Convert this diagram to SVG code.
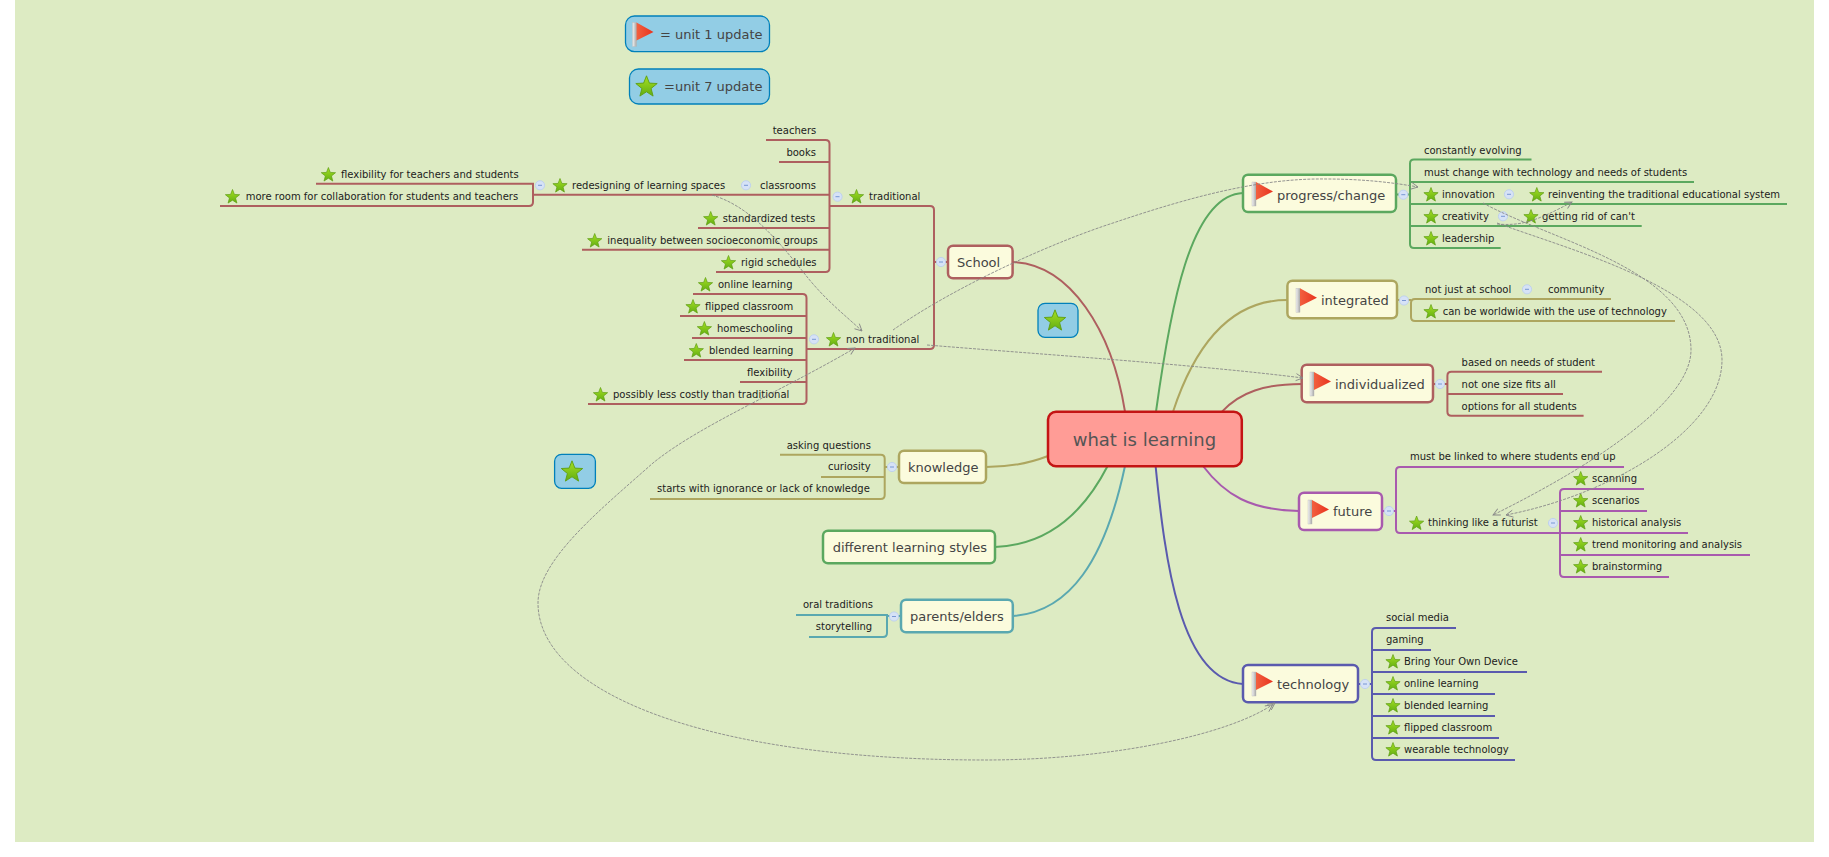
<svg xmlns="http://www.w3.org/2000/svg" xmlns:xlink="http://www.w3.org/1999/xlink" width="1829" height="857" viewBox="0 0 1829 857">
<style>
text{font-family:"DejaVu Sans",Verdana,sans-serif}
.l{font-size:10px;fill:#1c1c1c}
.n{font-size:13px;fill:#444}
.c{font-size:18px;fill:#555;text-anchor:middle}
.box{fill:#fbfbdd;stroke-width:2.5}
.r{stroke:#ae5f5f}.o{stroke:#ada65f}.g{stroke:#5ba85f}.t{stroke:#5aa8b0}.p{stroke:#a85aae}.b{stroke:#5a5aae}
.leg{fill:#92cde5;stroke:#0080ba;stroke-width:1.3}
#conn path{fill:none;stroke-width:2}
#rel path{fill:none;stroke:#888;stroke-width:.9;stroke-dasharray:3 1.2}
</style>
<defs>
<linearGradient id="sg" x1="0" y1="0" x2="0" y2="1"><stop offset="0" stop-color="#a6e022"/><stop offset="1" stop-color="#62ae12"/></linearGradient>
<linearGradient id="fg" x1="0" y1="0" x2="1" y2="0"><stop offset="0" stop-color="#f2603f"/><stop offset="1" stop-color="#e8321e"/></linearGradient>
<linearGradient id="pg" x1="0" y1="0" x2="1" y2="0"><stop offset="0" stop-color="#f4f4f4"/><stop offset="1" stop-color="#a8a8a8"/></linearGradient>
<g id="star"><polygon points="0,-7.5 1.88,-2.59 7.13,-2.32 3.04,.99 4.41,6.07 0,3.2 -4.41,6.07 -3.04,.99 -7.13,-2.32 -1.88,-2.59" fill="url(#sg)" stroke="#5e9e12" stroke-width=".7" stroke-linejoin="round"/></g>
<g id="bigstar"><polygon points="0,-11.2 2.9,-3.9 10.7,-3.5 4.6,1.5 6.6,9.1 0,4.8 -6.6,9.1 -4.6,1.5 -10.7,-3.5 -2.9,-3.9" fill="url(#sg)" stroke="#5e9e12" stroke-width=".9" stroke-linejoin="round"/></g>
<g id="flag"><rect x="0" y="0" width="4" height="24" fill="url(#pg)" stroke="#bbb" stroke-width=".4"/><path d="M4,0 L21,9.5 L4,18Z" fill="url(#fg)"/></g>
<g id="col"><circle r="4.6" fill="#d6e2f6" stroke="#b9cdf0" stroke-width=".8"/><path d="M-2,0H2" stroke="#6d8fd0" stroke-width=".9"/></g>
<marker id="arr" markerUnits="userSpaceOnUse" markerWidth="12" markerHeight="10" viewBox="-9 -5 10 10" refX="0" refY="0" orient="auto-start-reverse"><path d="M-7,-3.5L0,0L-7,3.5" fill="none" stroke="#888" stroke-width=".9"/></marker>
<marker id="arr2" markerUnits="userSpaceOnUse" markerWidth="14" markerHeight="10" viewBox="-11 -5 12 10" refX="0" refY="0" orient="auto"><path d="M-7,-3.5L0,0L-7,3.5M-10,-3.5L-3,0L-10,3.5" fill="none" stroke="#888" stroke-width=".9"/></marker>
</defs>
<rect id="background" x="15" y="0" width="1799" height="842" fill="#ddebc3"/>

<g id="conn">
<path class="r" d="M1012.6,262C1070,264 1112,330 1125,411.7"/>
<path class="o" d="M986,467C1010,467 1030,463 1048,456"/>
<path class="g" d="M995,547C1050,545 1085,510 1107.6,466"/>
<path class="t" d="M1013,616C1070,612 1105,560 1125,466"/>
<path class="b" d="M1155.6,466C1165,560 1180,680 1243,684"/>
<path class="p" d="M1203,466C1225,495 1250,510 1299,511"/>
<path class="r" d="M1222,411.7C1240,392 1265,384 1302,384"/>
<path class="o" d="M1173,411.7C1195,345 1230,300 1287,300"/>
<path class="g" d="M1156,411.7C1170,310 1190,195 1243,193"/>
<path class="r" d="M934,262H948"/>
<path class="r" d="M948,262H934M830,206H930Q934,206 934,210V345Q934,349 930,349H807"/>
<path class="r" d="M766,140H825.5Q829.5,140 829.5,144V268Q829.5,272 825.5,272H716"/>
<path class="r" d="M779,162H829.5M698,228H829.5M582,249.7H829.5M533,194.7H829.5"/>
<path class="r" d="M316,183.7H533V202Q533,206 529,206H220"/>
<path class="r" d="M693,294H802.5Q806.5,294 806.5,298V400Q806.5,404 802.5,404H588"/>
<path class="r" d="M680,316H806.5M692,338H806.5M684,360H806.5M740,382H806.5"/>
<path class="o" d="M780,454.7H880.7Q884.7,454.7 884.7,458.7V495Q884.7,499 880.7,499H650M821,477H884.7M884.7,467H899"/>
<path class="t" d="M796,615H887V633Q887,637 883,637H809M887,616H901"/>
<path class="g" d="M1531.5,159.5H1414Q1410,159.5 1410,163.5V244Q1410,248 1414,248H1500.7M1410,182H1694M1410,204H1787M1410,226H1641.7M1396,194.5H1410"/>
<path class="o" d="M1611,299H1415Q1411,299 1411,303V317Q1411,321 1415,321H1675M1397,300H1411"/>
<path class="r" d="M1602,371.7H1451.4Q1447.4,371.7 1447.4,375.7V411.7Q1447.4,415.7 1451.4,415.7H1583.6M1447.4,394H1563M1433,384H1447.4"/>
<path class="p" d="M1624,467H1400Q1396,467 1396,471V529Q1396,533 1400,533H1688M1382,511H1396"/>
<path class="p" d="M1644,489H1564Q1560,489 1560,493V573Q1560,577 1564,577H1669M1560,511H1647M1560,555H1750"/>
<path class="b" d="M1456,628H1376Q1372,628 1372,632V756Q1372,760 1376,760H1515M1372,650H1431M1372,672H1527M1372,694H1495M1372,716H1495M1372,738H1499M1358,684H1372"/>
</g>

<g id="legend-flag"><rect class="leg" x="625.5" y="16" width="144" height="35.7" rx="9"/><use href="#flag" x="632.5" y="22.5"/><text x="660" y="38.7" font-size="13" fill="#444">= unit 1 update</text></g>
<g id="legend-star"><rect class="leg" x="629.5" y="69" width="140" height="35" rx="9"/><use href="#bigstar" x="646.5" y="87"/><text x="664" y="91" font-size="13" fill="#444">=unit 7 update</text></g>
<g id="float-star-1"><rect class="leg" x="1038" y="303.3" width="40" height="34" rx="7"/><use href="#bigstar" x="1055" y="321"/></g>
<g id="float-star-2"><rect class="leg" x="554.6" y="454.3" width="40.8" height="34" rx="7"/><use href="#bigstar" x="572" y="472"/></g>

<g id="central"><rect x="1048" y="411.7" width="193.8" height="54.6" rx="8" fill="#ff9c96" stroke="#c41414" stroke-width="2.5"/><text class="c" x="1144.4" y="446">what is learning</text></g>

<g id="school"><rect class="box r" x="948" y="245.7" width="64.6" height="32.6" rx="5"/><text class="n" x="957" y="267">School</text><use href="#col" x="941" y="262"/></g>
<g id="traditional"><use href="#star" x="856.5" y="197"/><text class="l" x="869" y="200">traditional</text><use href="#col" x="837.5" y="196.7"/></g>
<g id="teachers"><text class="l" x="772.7" y="133.7">teachers</text></g>
<g id="books"><text class="l" x="786.4" y="156">books</text></g>
<g id="classrooms"><text class="l" x="760" y="189">classrooms</text><use href="#col" x="746" y="185.3"/></g>
<g id="redesigning"><use href="#star" x="560" y="186"/><text class="l" x="572" y="189">redesigning of learning spaces</text><use href="#col" x="540" y="185.3"/></g>
<g id="flex-teachers"><use href="#star" x="328.4" y="175"/><text class="l" x="341" y="178">flexibility for teachers and students</text></g>
<g id="more-room"><use href="#star" x="232.5" y="197"/><text class="l" x="245.7" y="200">more room for collaboration for students and teachers</text></g>
<g id="standardized"><use href="#star" x="710.7" y="219"/><text class="l" x="722.7" y="222">standardized tests</text></g>
<g id="inequality"><use href="#star" x="594.7" y="241"/><text class="l" x="607.3" y="244">inequality between socioeconomic groups</text></g>
<g id="rigid"><use href="#star" x="728.5" y="263"/><text class="l" x="741" y="266">rigid schedules</text></g>
<g id="non-traditional"><use href="#star" x="833.5" y="340"/><text class="l" x="846" y="343">non traditional</text><use href="#col" x="814" y="339.3"/></g>
<g id="online-1"><use href="#star" x="705.5" y="285"/><text class="l" x="718" y="288">online learning</text></g>
<g id="flipped-1"><use href="#star" x="693" y="307"/><text class="l" x="705" y="310">flipped classroom</text></g>
<g id="homeschooling"><use href="#star" x="704.4" y="329"/><text class="l" x="717" y="332">homeschooling</text></g>
<g id="blended-1"><use href="#star" x="696.3" y="351"/><text class="l" x="709" y="354">blended learning</text></g>
<g id="flexibility"><text class="l" x="747" y="376">flexibility</text></g>
<g id="costly"><use href="#star" x="600.5" y="395"/><text class="l" x="613" y="398">possibly less costly than traditional</text></g>

<g id="knowledge"><rect class="box o" x="899" y="450.7" width="87" height="32.3" rx="5"/><text class="n" x="908" y="471.5">knowledge</text><use href="#col" x="892" y="467"/></g>
<g id="asking"><text class="l" x="786.7" y="449">asking questions</text></g>
<g id="curiosity"><text class="l" x="828" y="470">curiosity</text></g>
<g id="starts"><text class="l" x="657" y="492">starts with ignorance or lack of knowledge</text></g>
<g id="styles"><rect class="box g" x="823" y="530.7" width="172" height="32.6" rx="5"/><text class="n" x="832.7" y="551.5">different learning styles</text></g>
<g id="parents"><rect class="box t" x="901" y="599.7" width="111.8" height="32.6" rx="5"/><text class="n" x="910" y="620.5">parents/elders</text><use href="#col" x="894" y="616.5"/></g>
<g id="oral"><text class="l" x="803" y="608">oral traditions</text></g>
<g id="storytelling"><text class="l" x="815.8" y="630">storytelling</text></g>

<g id="progress"><rect class="box g" x="1243" y="174.7" width="153" height="37.3" rx="5"/><use href="#flag" x="1252" y="182"/><text class="n" x="1277" y="199.5">progress/change</text><use href="#col" x="1403.3" y="194.7"/></g>
<g id="evolving"><text class="l" x="1424" y="154">constantly evolving</text></g>
<g id="must-change"><text class="l" x="1424" y="176">must change with technology and needs of students</text></g>
<g id="innovation"><use href="#star" x="1431" y="195"/><text class="l" x="1442" y="198">innovation</text><use href="#col" x="1509" y="194.3"/></g>
<g id="reinventing"><use href="#star" x="1536.8" y="195"/><text class="l" x="1548" y="198">reinventing the traditional educational system</text></g>
<g id="creativity"><use href="#star" x="1431" y="217"/><text class="l" x="1442" y="220">creativity</text><use href="#col" x="1503" y="216.3"/></g>
<g id="cant"><use href="#star" x="1531" y="217"/><text class="l" x="1542" y="220">getting rid of can't</text></g>
<g id="leadership"><use href="#star" x="1431" y="239"/><text class="l" x="1442" y="242">leadership</text></g>

<g id="integrated"><rect class="box o" x="1287.4" y="280.7" width="109.6" height="37.6" rx="5"/><use href="#flag" x="1296" y="288.3"/><text class="n" x="1321" y="305">integrated</text><use href="#col" x="1404" y="300.5"/></g>
<g id="not-just"><text class="l" x="1425" y="293">not just at school</text><use href="#col" x="1527" y="289.3"/></g>
<g id="community"><text class="l" x="1548" y="293">community</text></g>
<g id="worldwide"><use href="#star" x="1431" y="312"/><text class="l" x="1442.7" y="315">can be worldwide with the use of technology</text></g>

<g id="individualized"><rect class="box r" x="1301.7" y="364.7" width="131.3" height="37.6" rx="5"/><use href="#flag" x="1310" y="372"/><text class="n" x="1335" y="389">individualized</text><use href="#col" x="1440" y="384"/></g>
<g id="based"><text class="l" x="1461.6" y="366">based on needs of student</text></g>
<g id="one-size"><text class="l" x="1461.6" y="388">not one size fits all</text></g>
<g id="options"><text class="l" x="1461.6" y="410">options for all students</text></g>

<g id="future"><rect class="box p" x="1299" y="492.7" width="83" height="37.3" rx="5"/><use href="#flag" x="1308" y="500"/><text class="n" x="1333" y="516">future</text><use href="#col" x="1389" y="511"/></g>
<g id="linked"><text class="l" x="1410" y="460">must be linked to where students end up</text></g>
<g id="futurist"><use href="#star" x="1416.6" y="523.5"/><text class="l" x="1428" y="526">thinking like a futurist</text><use href="#col" x="1553" y="523"/></g>
<g id="scanning"><use href="#star" x="1580.7" y="479"/><text class="l" x="1592" y="482">scanning</text></g>
<g id="scenarios"><use href="#star" x="1580.7" y="501"/><text class="l" x="1592" y="504">scenarios</text></g>
<g id="historical"><use href="#star" x="1580.7" y="523"/><text class="l" x="1592" y="526">historical analysis</text></g>
<g id="trend"><use href="#star" x="1580.7" y="545"/><text class="l" x="1592" y="548">trend monitoring and analysis</text></g>
<g id="brainstorming"><use href="#star" x="1580.7" y="567"/><text class="l" x="1592" y="570">brainstorming</text></g>

<g id="technology"><rect class="box b" x="1243" y="665" width="115" height="37.3" rx="5"/><use href="#flag" x="1252" y="672"/><text class="n" x="1277" y="688.5">technology</text><use href="#col" x="1365" y="684"/></g>
<g id="social"><text class="l" x="1386" y="621">social media</text></g>
<g id="gaming"><text class="l" x="1386" y="643">gaming</text></g>
<g id="byod"><use href="#star" x="1393" y="662"/><text class="l" x="1404" y="665">Bring Your Own Device</text></g>
<g id="online-2"><use href="#star" x="1393" y="684"/><text class="l" x="1404" y="687">online learning</text></g>
<g id="blended-2"><use href="#star" x="1393" y="706"/><text class="l" x="1404" y="709">blended learning</text></g>
<g id="flipped-2"><use href="#star" x="1393" y="728"/><text class="l" x="1404" y="731">flipped classroom</text></g>
<g id="wearable"><use href="#star" x="1393" y="750"/><text class="l" x="1404" y="753">wearable technology</text></g>

<g id="rel">
<path d="M712,195C745,205 770,230 804,273C825,300 845,315 862,331" marker-end="url(#arr)"/>
<path d="M927,345C1050,355 1200,365 1303,378" marker-end="url(#arr)"/>
<path d="M855,348C780,392 700,425 653,463C600,510 538,560 538,603C538,690 700,760 985,760C1110,760 1230,735 1275,703" marker-start="url(#arr)" marker-end="url(#arr2)"/>
<path d="M893,330C960,283 1060,240 1113,223C1190,197 1260,178 1326,179C1360,179 1390,182 1418,187" marker-end="url(#arr)"/>
<path d="M1483,203C1550,240 1691,270 1691,350C1691,400 1600,462 1493,515" marker-end="url(#arr)"/>
<path d="M1497,223C1570,250 1722,290 1722,360C1722,430 1610,495 1506,515" marker-end="url(#arr)"/>
<path d="M1497,224C1520,226 1535,222 1572,202" marker-end="url(#arr)"/>
</g>
</svg>
